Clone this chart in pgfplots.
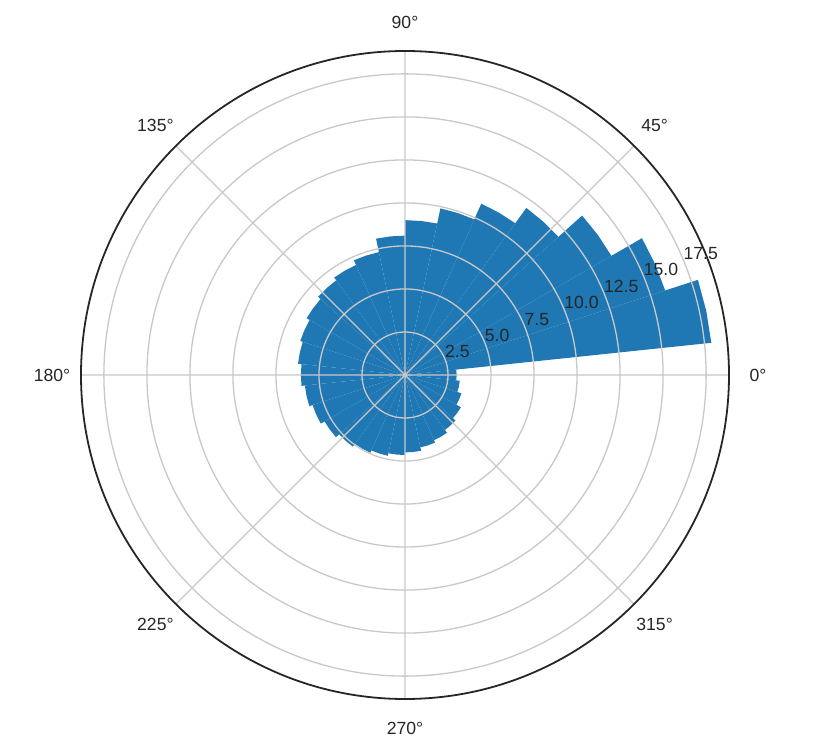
\documentclass[border=0pt]{standalone}
\usepackage{pgfplots}
\pgfplotsset{compat=1.18}
\usepgfplotslibrary{polar}
\usepackage{fontspec}
\setmainfont{Liberation Sans}

\definecolor{barblue}{HTML}{1F77B4}
\definecolor{gridgray}{HTML}{C8C8C8}
\definecolor{txt}{HTML}{262626}

\begin{document}
\begin{tikzpicture}
\begin{polaraxis}[
    at={(0,0)}, anchor=center,
    width=324pt, height=324pt, scale only axis,
    set layers=axis on top,
    xmin=0, xmax=360, ymin=0, ymax=18.83,
    xtick={0,45,...,315},
    xticklabels={0°,45°,90°,135°,180°,225°,270°,315°},
    ytick={2.5,5,...,17.5},
    yticklabels={},
    xmajorgrids, ymajorgrids,
    major grid style={gridgray, line width=0.65pt},
    axis line style={txt, line width=0.9pt},
    y axis line style={draw=none},
    major tick length=0pt,
    font=\fontsize{8.8}{10}\selectfont,
    xticklabel style={text=txt, anchor=center,
        xshift={14.5pt*cos(\tick)}, yshift={14.5pt*sin(\tick)}},
    bar/.style={fill=barblue, draw=none, forget plot},
]
% one wedge per bar: (angle, radius), 12 degrees wide
\addplot[bar] coordinates {(0,0) (-6,3.0) (0,3.0) (6,3.0)};
\addplot[bar] coordinates {(0,0) (6,17.9) (12,17.9) (18,17.9)};
\addplot[bar] coordinates {(0,0) (18,15.9) (24,15.9) (30,15.9)};
\addplot[bar] coordinates {(0,0) (30,13.85) (36,13.85) (42,13.85)};
\addplot[bar] coordinates {(0,0) (42,12.0) (48,12.0) (54,12.0)};
\addplot[bar] coordinates {(0,0) (54,10.9) (60,10.9) (66,10.9)};
\addplot[bar] coordinates {(0,0) (66,9.9) (72,9.9) (78,9.9)};
\addplot[bar] coordinates {(0,0) (78,9.0) (84,9.0) (90,9.0)};
\addplot[bar] coordinates {(0,0) (90,8.1) (96,8.1) (102,8.1)};
\addplot[bar] coordinates {(0,0) (102,7.3) (108,7.3) (114,7.3)};
\addplot[bar] coordinates {(0,0) (114,7.0) (120,7.0) (126,7.0)};
\addplot[bar] coordinates {(0,0) (126,6.8) (132,6.8) (138,6.8)};
\addplot[bar] coordinates {(0,0) (138,6.6) (144,6.6) (150,6.6)};
\addplot[bar] coordinates {(0,0) (150,6.4) (156,6.4) (162,6.4)};
\addplot[bar] coordinates {(0,0) (162,6.25) (168,6.25) (174,6.25)};
\addplot[bar] coordinates {(0,0) (174,6.05) (180,6.05) (186,6.05)};
\addplot[bar] coordinates {(0,0) (186,5.85) (192,5.85) (198,5.85)};
\addplot[bar] coordinates {(0,0) (198,5.65) (204,5.65) (210,5.65)};
\addplot[bar] coordinates {(0,0) (210,5.4) (216,5.4) (222,5.4)};
\addplot[bar] coordinates {(0,0) (222,5.15) (228,5.15) (234,5.15)};
\addplot[bar] coordinates {(0,0) (234,4.95) (240,4.95) (246,4.95)};
\addplot[bar] coordinates {(0,0) (246,4.8) (252,4.8) (258,4.8)};
\addplot[bar] coordinates {(0,0) (258,4.65) (264,4.65) (270,4.65)};
\addplot[bar] coordinates {(0,0) (270,4.5) (276,4.5) (282,4.5)};
\addplot[bar] coordinates {(0,0) (282,4.3) (288,4.3) (294,4.3)};
\addplot[bar] coordinates {(0,0) (294,4.15) (300,4.15) (306,4.15)};
\addplot[bar] coordinates {(0,0) (306,3.95) (312,3.95) (318,3.95)};
\addplot[bar] coordinates {(0,0) (318,3.75) (324,3.75) (330,3.75)};
\addplot[bar] coordinates {(0,0) (330,3.45) (336,3.45) (342,3.45)};
\addplot[bar] coordinates {(0,0) (342,3.2) (348,3.2) (354,3.2)};

% radial tick labels at 22.5 degrees, as matplotlib puts them
\begin{pgfonlayer}{axis foreground}
\pgfplotsinvokeforeach{2.5,5.0,7.5,10.0,12.5,15.0,17.5}{
  \node[anchor=south west, inner sep=0pt, text=txt] at (axis cs:22.5,#1) {#1};
}
\end{pgfonlayer}
\end{polaraxis}
% page size of the reference, pole at (405,375) px, 0.5pt per px
\pgfresetboundingbox
\useasboundingbox (-202.5pt,-189.5pt) rectangle (211.5pt,187.5pt);
\end{tikzpicture}
\end{document}
